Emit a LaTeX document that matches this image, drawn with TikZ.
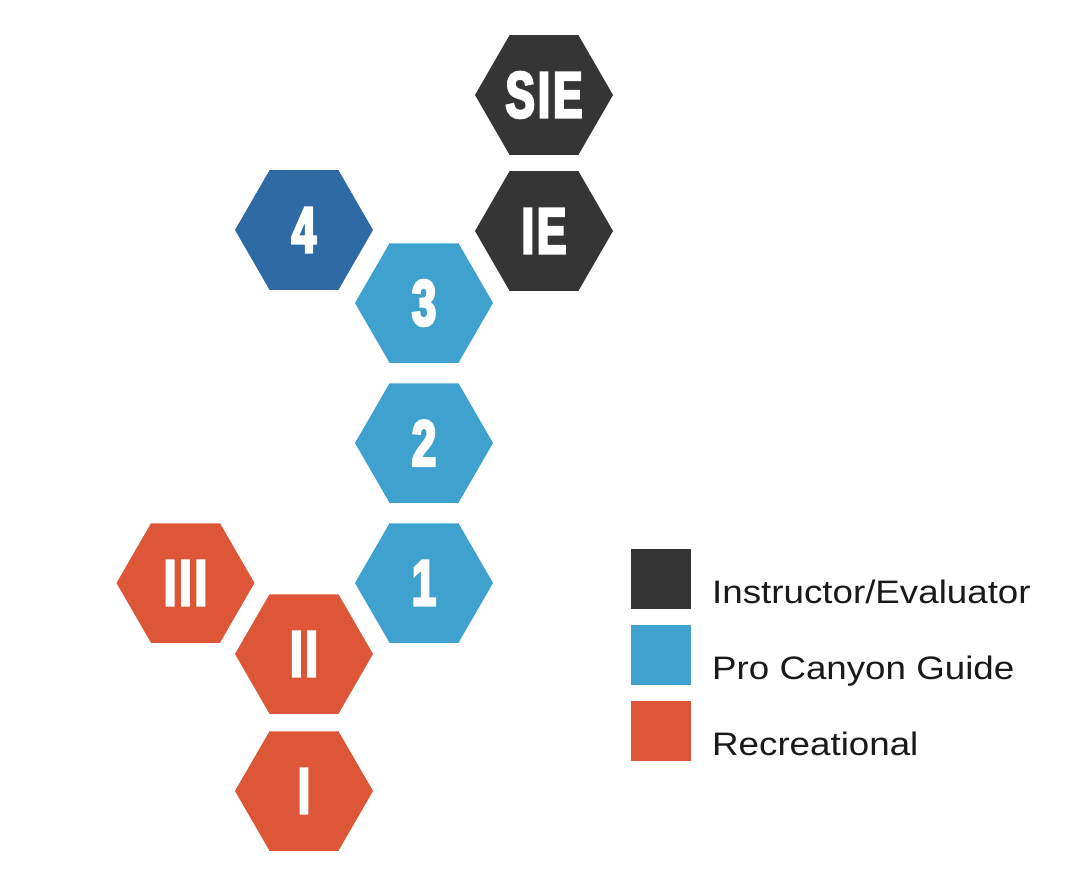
\documentclass[tikz,border=0pt]{standalone}
\usepackage{fontspec}
\setmainfont{Liberation Sans}
\newfontfamily\hexfont[FakeStretch=0.67,FakeBold=4,LetterSpace=5]{Liberation Sans}
\newfontfamily\legendfont[FakeStretch=1.13]{Liberation Sans}
\usetikzlibrary{shapes.geometric,positioning}

\definecolor{evalgray}{RGB}{53,53,53}
\definecolor{problue}{RGB}{62,161,206}
\definecolor{topblue}{RGB}{46,106,164}
\definecolor{recred}{RGB}{221,86,55}

\begin{document}
\begin{tikzpicture}[x=1pt,y=-1pt,
    hexa/.style={regular polygon, regular polygon sides=6, minimum size=138pt,
        inner sep=0pt, outer sep=0pt, text=white,
        font=\hexfont\bfseries\fontsize{65}{65}\selectfont},
    keybox/.style={minimum size=60pt, inner sep=0pt, outer sep=0pt},
    keytext/.style={anchor=base west, inner sep=0pt, text=black!90,
        font=\legendfont\fontsize{32.5}{38}\selectfont}]
    \useasboundingbox (0,0) rectangle (1080,895);

    % Instructor / Evaluator
    \node[hexa, fill=evalgray] (sie) at (544,95) {SIE};
    \node[hexa, fill=evalgray] (ie) at (544,231) {IE};

    % Pro Canyon Guide
    \node[hexa, fill=topblue] (four) at (304,230) {4};
    \node[hexa, fill=problue] (three) at (424,303) {3};
    \node[hexa, fill=problue] (two) at (424,443) {2};
    \node[hexa, fill=problue] (one) at (424,583) {1};

    % Recreational
    \node[hexa, fill=recred] (rthree) at (185.5,583) {III};
    \node[hexa, fill=recred] (rtwo) at (304,654) {II};
    \node[hexa, fill=recred] (rone) at (304,791) {I};

    % Legend
    \node[keybox, fill=evalgray] (keyie) at (661,578.5) {};
    \node[keybox, fill=problue] (keypro) at (661,654.5) {};
    \node[keybox, fill=recred] (keyrec) at (661,730.5) {};
    \node[keytext] (txtie) at (712,603) {Instructor/Evaluator};
    \node[keytext] (txtpro) at (712,679) {Pro Canyon Guide};
    \node[keytext] (txtrec) at (712,755) {Recreational};
\end{tikzpicture}
\end{document}
